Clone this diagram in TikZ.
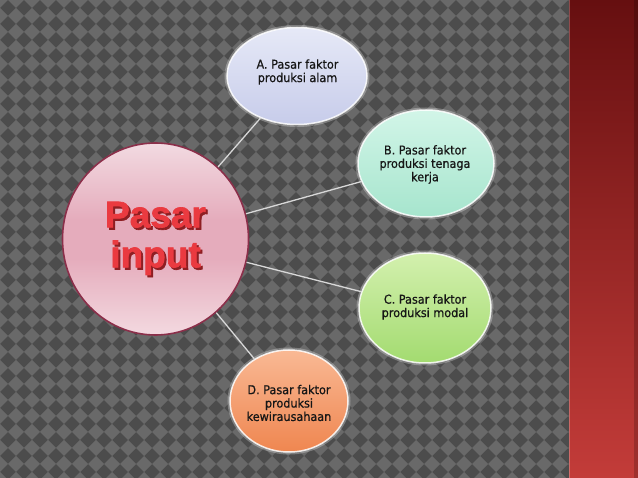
\documentclass[tikz,border=0pt]{standalone}
\usepackage{fontspec}
\usetikzlibrary{shapes.geometric}
\newfontfamily\bodyfont[FakeStretch=0.92, FakeBold=0.6]{DejaVu Sans}
\newfontfamily\headfont[BoldFeatures={FakeBold=1.8}]{Liberation Sans}
\definecolor{bgdark}{HTML}{4C4C4C}
\definecolor{bglight}{HTML}{696969}
\definecolor{redtop}{HTML}{660F10}
\definecolor{redmid}{HTML}{931E1F}
\definecolor{redbot}{HTML}{C33C39}
\definecolor{conncol}{HTML}{D8D8D8}
\definecolor{bigtop}{HTML}{F2DAE1}
\definecolor{bigmid}{HTML}{E5ACBC}
\definecolor{bigbot}{HTML}{F3D9E0}
\definecolor{bigline}{HTML}{8B2F4A}
\definecolor{headred}{HTML}{EA3A40}
\definecolor{headshadow}{HTML}{8E1E22}
\definecolor{atop}{HTML}{E6E9F7}
\definecolor{abot}{HTML}{C7CCEA}
\definecolor{btop}{HTML}{D2F5E8}
\definecolor{bbot}{HTML}{A6E5CD}
\definecolor{ctop}{HTML}{D3F0AE}
\definecolor{cbot}{HTML}{A3DB70}
\definecolor{dtop}{HTML}{F9B994}
\definecolor{dbot}{HTML}{EF8650}
\definecolor{txtcol}{HTML}{161616}
\pgfdeclareverticalshading{bigshade}{100bp}{color(0bp)=(bigbot); color(25bp)=(bigbot); color(45bp)=(bigmid); color(55bp)=(bigmid); color(75bp)=(bigtop); color(100bp)=(bigtop)}
\newcommand{\shadowword}[1]{\rlap{\hspace{2pt}\raisebox{-2.2pt}{\textcolor{headshadow}{#1}}}\textcolor{headred}{#1}}
\begin{document}
\begin{tikzpicture}[x=1pt,y=-1pt,
  glow/.style={preaction={draw=white, draw opacity=0.28, line width=5pt},
    draw=white, draw opacity=0.85, line width=1.5pt},
  label/.style={font=\bodyfont\fontsize{12.2}{13.4}\selectfont, text=txtcol, align=center, inner sep=0pt},
  conn/.style={draw=conncol, line width=1.3pt},
  head/.style={font=\headfont\bfseries\fontsize{37}{40}\selectfont, align=center, inner sep=0pt}]
\useasboundingbox (0,0) rectangle (638,478);
% background
\fill[bgdark] (0,0) rectangle (569,478);
\begin{scope}
\clip (0,0) rectangle (569,478);
\foreach \i in {0,...,36}{
  \foreach \j in {0,...,30}{
    \fill[bglight] (\i*16,\j*16-8) -- (\i*16+8,\j*16) -- (\i*16,\j*16+8) -- (\i*16-8,\j*16) -- cycle;
  }
}
\end{scope}
\shade[top color=redtop, middle color=redmid, bottom color=redbot] (569,0) rectangle (638,478);
\fill[black, opacity=0.18] (634,0) rectangle (638,478);
\draw[white, opacity=0.25, line width=0.8pt] (569,0) -- (569,478);
% nodes
\node[ellipse, minimum width=186pt, minimum height=192pt, inner sep=0pt,
  shading=bigshade, draw=bigline, line width=1.6pt] (big) at (155.5,239) {};
\node[head] (bigtxt) at (155.5,239.5) {\shadowword{Pasar}\\\shadowword{input}};

\node[ellipse, minimum width=140pt, minimum height=97pt, inner sep=0pt, glow,
  top color=atop, bottom color=abot] (A) at (297,76) {};
\node[label] (Atxt) at (297.5,72) {A. Pasar faktor\\produksi alam};

\node[ellipse, minimum width=136pt, minimum height=107pt, inner sep=0pt, glow,
  top color=btop, bottom color=bbot] (B) at (426,163.5) {};
\node[label] (Btxt) at (425,164.5) {B. Pasar faktor\\produksi tenaga\\kerja};

\node[ellipse, minimum width=132pt, minimum height=110pt, inner sep=0pt, glow,
  top color=ctop, bottom color=cbot] (C) at (425,308) {};
\node[label] (Ctxt) at (425,307) {C. Pasar faktor\\produksi modal};

\node[ellipse, minimum width=118pt, minimum height=102pt, inner sep=0pt, glow,
  top color=dtop, bottom color=dbot] (D) at (289,401) {};
\node[label] (Dtxt) at (289,403) {D. Pasar faktor\\produksi\\kewirausahaan};
% connectors
\draw[conn] (big) -- (A);
\draw[conn] (big) -- (B);
\draw[conn] (big) -- (C);
\draw[conn] (big) -- (D);
\end{tikzpicture}
\end{document}
